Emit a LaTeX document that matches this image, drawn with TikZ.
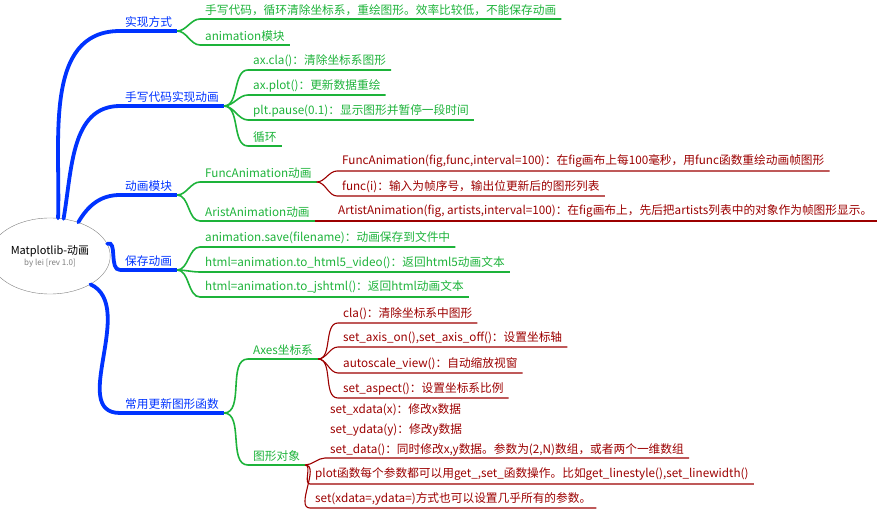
\documentclass[tikz,border=0pt]{standalone}
\usepackage{fontspec}
\setmainfont{Noto Sans CJK SC}
\usetikzlibrary{shapes.geometric}
\definecolor{bl}{HTML}{0033FF}
\definecolor{gr}{HTML}{1DB33A}
\definecolor{rd}{HTML}{9C0000}
\begin{document}
\begin{tikzpicture}[x=1pt,y=-1pt,
  lf/.style={anchor=south west,inner xsep=5pt,inner ysep=3pt,font=\fontsize{11.7}{14}\selectfont},
  gl/.style={lf,text=gr}, rl/.style={lf,text=rd}, bll/.style={lf,text=bl},
  gu/.style={draw=gr,line width=1.6pt}, ru/.style={draw=rd,line width=1.1pt},
  bu/.style={draw=bl,line width=3.8pt},
  br/.style={out=0,in=180,looseness=0.9}]
\useasboundingbox (0,0) rectangle (884,510);
\node[ellipse,draw=gray,minimum width=96,minimum height=76,align=center,fill=white] (root) at (50,256)
  {{\fontsize{11}{13}\selectfont Matplotlib-动画}\\[-1pt]{\fontsize{8}{9}\selectfont\color{gray} by lei [rev 1.0]}};
% level 1
\node[bll] (a) at (120,31) {实现方式};
\node[bll] (b) at (120,106) {手写代码实现动画};
\node[bll] (c) at (120,195) {动画模块};
\node[bll] (d) at (120,270) {保存动画};
\node[bll] (e) at (120,413) {常用更新图形函数};
\foreach \n/\a in {a/78,b/70,c/50,d/12,e/-35}{
  \draw[bu,line cap=round] (root.\a) to[out=\a+10,in=180] (\n.south west);
  \draw[bu] (\n.south west) -- (\n.south east);}
% level 2
\node[gl] (a1) at (200,19) {手写代码，循环清除坐标系，重绘图形。效率比较低，不能保存动画};
\node[gl] (a2) at (200,45) {animation模块};
\node[gl] (b1) at (248,70) {ax.cla()：清除坐标系图形};
\node[gl] (b2) at (248,95) {ax.plot()：更新数据重绘};
\node[gl] (b3) at (248,120) {plt.pause(0.1)：显示图形并暂停一段时间};
\node[gl] (b4) at (248,146) {循环};
\node[gl] (c1) at (200,182) {FuncAnimation动画};
\node[gl] (c2) at (200,221) {AristAnimation动画};
\node[gl] (d1) at (200,247) {animation.save(filename)：动画保存到文件中};
\node[gl] (d2) at (200,272) {html=animation.to\_html5\_video()：返回html5动画文本};
\node[gl] (d3) at (200,297) {html=animation.to\_jshtml()：返回html动画文本};
\node[gl] (e1) at (248,359) {Axes坐标系};
\node[gl] (e2) at (248,465) {图形对象};
\foreach \p/\l in {a/a1,a/a2,b/b1,b/b2,b/b3,b/b4,c/c1,c/c2,d/d1,d/d2,d/d3,e/e1,e/e2}{
  \draw[gu] (\p.south east) to[br] (\l.south west) -- (\l.south east);}
% level 3
\node[rl] (f1) at (337,171) {FuncAnimation(fig,func,interval=100)：在fig画布上每100毫秒，用func函数重绘动画帧图形};
\node[rl] (f2) at (337,196) {func(i)：输入为帧序号，输出位更新后的图形列表};
\node[rl] (g1) at (333,221) {ArtistAnimation(fig, artists,interval=100)：在fig画布上，先后把artists列表中的对象作为帧图形显示。};
\node[rl] (h1) at (338,323) {cla()：清除坐标系中图形};
\node[rl] (h2) at (338,347) {set\_axis\_on(),set\_axis\_off()：设置坐标轴};
\node[rl] (h3) at (338,373) {autoscale\_view()：自动缩放视窗};
\node[rl] (h4) at (338,398) {set\_aspect()：设置坐标系比例};
\node[rl,align=left,inner ysep=2pt] (k1) at (325,458) {set\_xdata(x)：修改x数据\\[6pt]set\_ydata(y)：修改y数据\\[6pt]set\_data()：同时修改x,y数据。参数为(2,N)数组，或者两个一维数组};
\node[rl] (k2) at (310,484) {plot函数每个参数都可以用get\_,set\_函数操作。比如get\_linestyle(),set\_linewidth()};
\node[rl] (k3) at (310,508) {set(xdata=,ydata=)方式也可以设置几乎所有的参数。};
\foreach \p/\l in {c1/f1,c1/f2,c2/g1,e1/h1,e1/h2,e1/h3,e1/h4,e2/k1,e2/k2,e2/k3}{
  \draw[ru] (\p.south east) to[br] (\l.south west) -- (\l.south east);}
\end{tikzpicture}
\end{document}
